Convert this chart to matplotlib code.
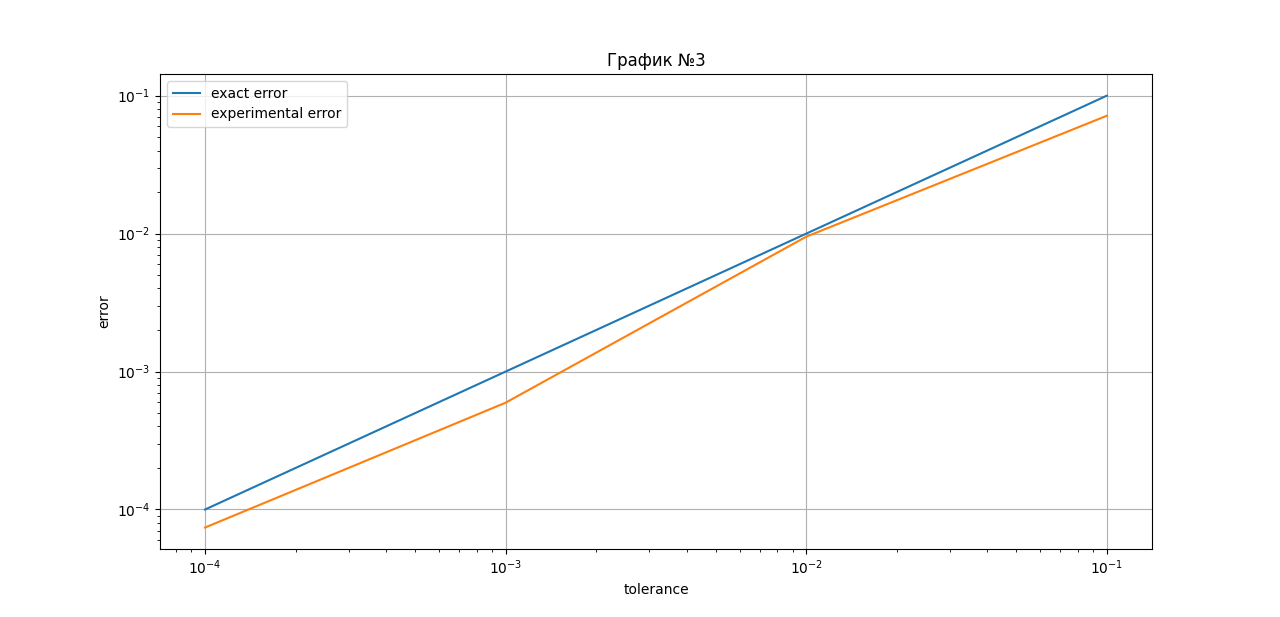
import matplotlib
matplotlib.use('Agg')
import matplotlib.pyplot as plt

tolerance = [1e-4, 1e-3, 1e-2, 1e-1]
exact_error = [1e-4, 1e-3, 1e-2, 1e-1]
experimental_error = [7.4e-5, 5.95e-4, 9.5e-3, 7.15e-2]

fig, ax = plt.subplots(figsize=(12.8, 6.17), dpi=100)
ax.loglog(tolerance, exact_error, label='exact error')
ax.loglog(tolerance, experimental_error, label='experimental error')
ax.set_title('График №3')
ax.set_xlabel('tolerance')
ax.set_ylabel('error')
ax.grid(True)
ax.legend(loc='upper left')
fig.savefig('out.png', dpi=100)
